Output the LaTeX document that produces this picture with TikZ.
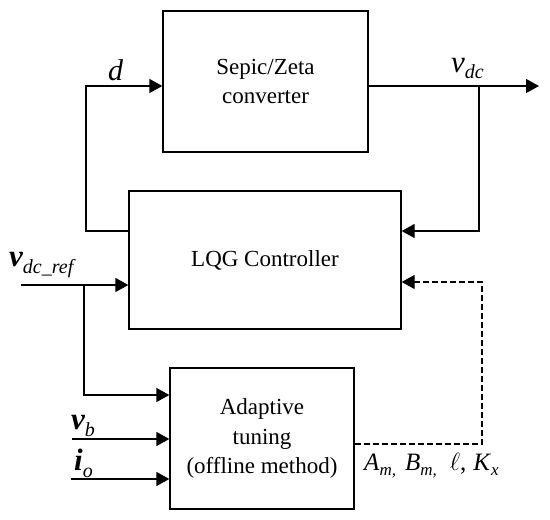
\documentclass[tikz,border=0pt]{standalone}
\usepackage{fontspec}
\setmainfont{Liberation Serif}
\usetikzlibrary{arrows.meta}

\newcommand{\bigsig}[2]{{\fontsize{31}{31}\selectfont\itshape #1}\raisebox{-6pt}{\fontsize{20}{20}\selectfont\itshape #2}}
\newcommand{\boldsig}[2]{{\fontsize{31}{31}\selectfont\bfseries\itshape #1}\raisebox{-7pt}{\fontsize{20}{20}\selectfont\itshape #2}}
\newcommand{\parsig}[2]{\textit{#1}\raisebox{-5pt}{\fontsize{17}{17}\selectfont\itshape #2}}

\begin{document}
\begin{tikzpicture}[x=1pt,y=-1pt,
  block/.style={draw, line width=1.3pt, inner sep=0pt, align=center, font=\fontsize{23}{29.5}\selectfont},
  sig/.style={line width=1.3pt, -{Triangle[length=13pt,width=14pt]}},
  lbl/.style={inner sep=0pt, anchor=base west}]
\useasboundingbox (0,0) rectangle (550,520);
\node[block, minimum width=205pt, minimum height=141pt] (conv) at (265.5,81.5) {Sepic/Zeta\\converter};
\node[block, minimum width=272pt, minimum height=138pt] (lqg) at (265,260) {LQG Controller};
\node[block, minimum width=184pt, minimum height=141pt] (adapt) at (262,438.5) {Adaptive\\tuning\\(offline method)};
% duty cycle loop
\coordinate (dtop) at (86,86);
\coordinate (dbot) at (86,231);
\draw[sig] (lqg.west |- dbot) -- (dbot) -- (dtop) -- (conv.west |- dtop);
\node[lbl, font=\fontsize{30}{30}\selectfont\itshape] (dlab) at (108,80) {d};
% output voltage
\coordinate (vout) at (539,86);
\coordinate (vtap) at (479,86);
\coordinate (vback) at (479,231);
\draw[sig] (conv.east |- vout) -- (vout);
\draw[sig] (vtap) -- (vback) -- (lqg.east |- vback);
\node[lbl] (vdclab) at (451,72) {\bigsig{v}{dc}};
% reference
\coordinate (refin) at (21,285);
\coordinate (reftap) at (84,285);
\coordinate (refdown) at (84,395);
\draw[sig] (refin) -- (lqg.west |- refin);
\draw[sig] (reftap) -- (refdown) -- (adapt.west |- refdown);
\node[lbl] (reflab) at (9,266) {\boldsig{v}{dc\_ref}};
% measured inputs
\coordinate (vbin) at (72,439);
\coordinate (ioin) at (71,479);
\draw[sig] (vbin) -- (adapt.west |- vbin);
\draw[sig] (ioin) -- (adapt.west |- ioin);
\node[lbl] (vblab) at (71,429) {\boldsig{v}{b}};
\node[lbl] (iolab) at (74,470) {\boldsig{i}{o}};
% tuned parameters
\coordinate (pturn) at (482,444);
\coordinate (ptop) at (482,282);
\draw[sig, line width=1.1pt, dash pattern=on 6pt off 3pt] (adapt.east |- pturn) -- (pturn) -- (ptop) -- (lqg.east |- ptop);
\node[lbl, font=\fontsize{25}{25}\selectfont] (parlab) at (364,470) {\parsig{A}{m,}\hspace{9pt}\parsig{B}{m,}\hspace{13pt}$\ell$,\hspace{7pt}\parsig{K}{x}};
\end{tikzpicture}
\end{document}
